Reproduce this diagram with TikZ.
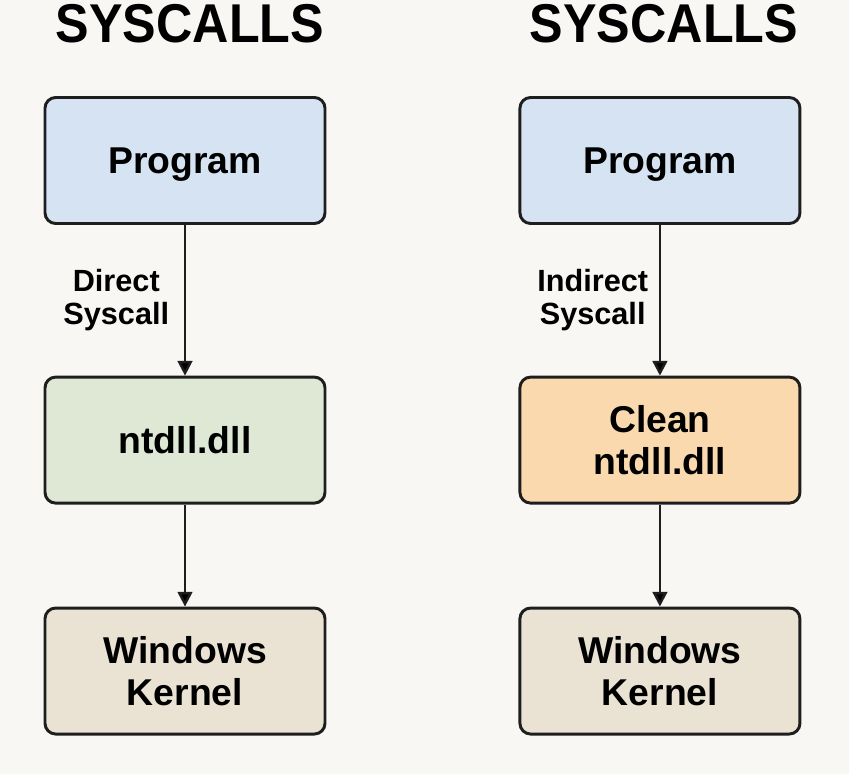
\documentclass[tikz,border=0pt]{standalone}
\usepackage{fontspec}
\setmainfont{Liberation Sans}
\newfontfamily\titlefont[FakeStretch=0.92]{Liberation Sans}
\usetikzlibrary{arrows.meta,positioning}
\definecolor{bgpaper}{HTML}{F8F7F3}
\definecolor{progblue}{HTML}{D5E3F2}
\definecolor{dllgreen}{HTML}{DEE8D4}
\definecolor{cleanorange}{HTML}{FBD9AE}
\definecolor{kernbeige}{HTML}{EAE3D3}
\definecolor{edgeblack}{HTML}{1E1E1E}

\begin{document}
\begin{tikzpicture}[x=0.75pt,y=-0.75pt,>={Triangle[width=11pt,length=11pt]}]
        \tikzset{block/.style={draw=edgeblack, line width=2.2pt, rectangle, rounded corners=8pt, align=center,
                minimum width=210pt, minimum height=94.5pt, font=\fontsize{28}{32}\selectfont\bfseries},
        title/.style={font=\titlefont\fontsize{41}{41}\selectfont\bfseries, inner sep=0pt},
        lbl/.style={align=center, inner sep=2pt, font=\fontsize{23}{25}\selectfont\bfseries},
        }
        \useasboundingbox[fill=bgpaper] (0,0) rectangle (849,774);

        % left column: direct
        \node[block, fill=progblue, text depth=0pt] (progL) at (185,160.5) {Program};
        \node[block, fill=dllgreen, below =113pt of progL] (ntdllL) {ntdll.dll};
        \node[block, fill=kernbeige, below =76.5pt of ntdllL] (kernL) {Windows\\Kernel};
        \node[title, anchor=base] (titleL) at (190,43) {SYSCALLS};

        % right column: indirect
        \node[block, fill=progblue, text depth=0pt, right =144pt of progL] (progR) {Program};
        \node[block, fill=cleanorange, below =113pt of progR] (ntdllR) {Clean\\ntdll.dll};
        \node[block, fill=kernbeige, below =76.5pt of ntdllR] (kernR) {Windows\\Kernel};
        \node[title, anchor=base] (titleR) at (664,43) {SYSCALLS};

%% paths
        \path[draw=edgeblack,->,line width=1.8pt]
                    (progL) edge node[lbl, left=9pt] {Direct\\Syscall} (ntdllL)
                    (ntdllL) edge (kernL)
                    (progR) edge node[lbl, left=6pt] {Indirect\\Syscall} (ntdllR)
                    (ntdllR) edge (kernR)
                    ;
\end{tikzpicture}
\end{document}
